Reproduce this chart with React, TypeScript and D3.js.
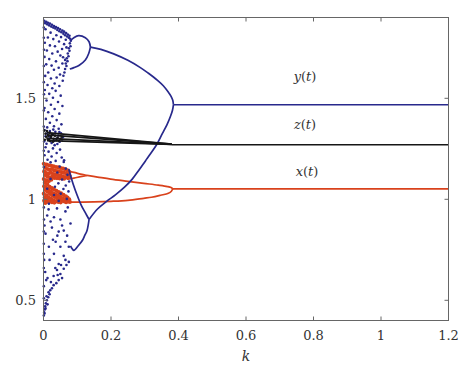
import React from "react";
import * as d3 from "d3";

const W = 474, H = 379;
const xTicks = [0, 0.2, 0.4, 0.6, 0.8, 1, 1.2];
const yTicks = [0.5, 1, 1.5];

// y(t) branches
const yUpper: [number, number][] = [[0.385,1.468],[0.383,1.49],[0.378,1.51],[0.37,1.53],[0.355,1.562],[0.337,1.59],[0.31,1.625],[0.287,1.652],[0.25,1.688],[0.208,1.72],[0.17,1.742],[0.139,1.753]];
const yLower: [number, number][] = [[0.385,1.468],[0.382,1.44],[0.376,1.41],[0.366,1.37],[0.352,1.325],[0.335,1.27],[0.317,1.225],[0.302,1.19],[0.283,1.145],[0.263,1.10],[0.24,1.06],[0.213,1.022],[0.187,0.99],[0.16,0.952],[0.135,0.90]];
const yLoopTopA: [number, number][] = [[0.139,1.753],[0.135,1.78],[0.124,1.80],[0.104,1.81],[0.09,1.80],[0.08,1.786]];
const yLoopTopB: [number, number][] = [[0.139,1.753],[0.134,1.722],[0.124,1.69],[0.106,1.664],[0.09,1.652],[0.078,1.645]];
const yLoopBotA: [number, number][] = [[0.135,0.90],[0.125,0.93],[0.112,0.97],[0.1,1.019],[0.088,1.075],[0.08,1.118],[0.075,1.15]];
const yLoopBotB: [number, number][] = [[0.135,0.90],[0.129,0.846],[0.122,0.82],[0.115,0.796],[0.103,0.77],[0.09,0.747],[0.085,0.755],[0.08,0.77]];
const ySteady: [number, number][] = [[0.385,1.468],[1.2,1.468]];

// x(t) branches
const xUpper: [number, number][] = [[0.383,1.052],[0.378,1.058],[0.367,1.063],[0.34,1.07],[0.297,1.079],[0.25,1.089],[0.199,1.10],[0.16,1.11],[0.129,1.118]];
const xLower: [number, number][] = [[0.383,1.052],[0.379,1.04],[0.37,1.03],[0.347,1.02],[0.32,1.01],[0.297,1.005],[0.25,0.995],[0.2,0.99],[0.15,0.987],[0.1,0.986],[0.065,0.986]];
const xLoopA: [number, number][] = [[0.129,1.118],[0.11,1.125],[0.09,1.133],[0.07,1.14]];
const xLoopB: [number, number][] = [[0.129,1.118],[0.11,1.112],[0.09,1.105],[0.07,1.10]];
const xSteady: [number, number][] = [[0.383,1.052],[1.2,1.052]];

// z(t) branches
const zA: [number, number][] = [[0.01,1.33],[0.38,1.273]];
const zB: [number, number][] = [[0.01,1.319],[0.38,1.273]];
const zC: [number, number][] = [[0.01,1.302],[0.38,1.272]];
const zD: [number, number][] = [[0.01,1.29],[0.38,1.272]];
const zSteady: [number, number][] = [[0.38,1.27],[1.2,1.27]];

const bluePts: [number, number][] = [
[0.002,1.884],[0.005,1.872],[0.008,1.879],[0.011,1.866],[0.013,1.874],[0.017,1.861],[0.019,1.87],[0.023,1.855],[0.025,1.864],[0.029,1.85],[0.031,1.858],[0.035,1.846],[0.037,1.853],[0.041,1.838],[0.043,1.848],[0.047,1.832],[0.049,1.842],[0.053,1.827],[0.056,1.836],[0.059,1.82],[0.061,1.83],[0.064,1.812],[0.067,1.823],[0.07,1.806],[0.072,1.816],[0.075,1.8],[0.077,1.81],[0.079,1.795],
[0.081,1.785],[0.078,1.772],[0.08,1.758],[0.075,1.748],[0.077,1.735],[0.072,1.722],[0.074,1.708],[0.069,1.698],[0.071,1.684],[0.066,1.672],[0.068,1.66],[0.064,1.645],[0.062,1.628],[0.059,1.612],
[0.006,1.842],[0.021,1.825],[0.038,1.812],[0.052,1.803],[0.066,1.79],[0.013,1.801],[0.029,1.793],[0.046,1.781],[0.061,1.768],[0.004,1.775],[0.019,1.762],[0.034,1.758],[0.055,1.744],[0.068,1.752],[0.01,1.737],[0.026,1.722],[0.042,1.731],[0.058,1.703],[0.003,1.705],[0.017,1.694],[0.037,1.683],[0.05,1.712],[0.064,1.69],[0.024,1.662],[0.045,1.651],[0.008,1.668],[0.056,1.672],[0.031,1.641],[0.014,1.628],[0.049,1.618],[0.039,1.603],[0.022,1.598],[0.005,1.611],[0.057,1.587],[0.033,1.573],[0.012,1.566],[0.047,1.561],[0.026,1.55],
[0.004,1.541],[0.036,1.537],[0.017,1.522],[0.051,1.513],[0.028,1.503],[0.009,1.489],[0.043,1.482],[0.022,1.468],[0.056,1.462],[0.003,1.452],[0.033,1.447],[0.014,1.431],[0.047,1.424],[0.026,1.411],[0.007,1.398],[0.039,1.392],[0.019,1.379],[0.053,1.371],[0.031,1.362],[0.011,1.356],[0.045,1.349],
[0.003,1.343],[0.019,1.338],[0.035,1.334],[0.052,1.327],[0.011,1.326],[0.027,1.319],[0.044,1.316],[0.058,1.309],[0.006,1.312],[0.022,1.304],[0.039,1.301],[0.055,1.296],[0.015,1.293],[0.031,1.289],[0.048,1.285],[0.002,1.287],[0.024,1.279],[0.041,1.274],[0.009,1.275],[0.033,1.268],[0.017,1.311],[0.047,1.333],[0.029,1.345],
[0.006,1.258],[0.028,1.252],[0.049,1.246],[0.015,1.236],[0.039,1.229],[0.003,1.218],[0.024,1.212],[0.054,1.207],[0.012,1.196],[0.036,1.19],[0.061,1.193],[0.021,1.183],
[0.06,1.185],[0.048,1.162],[0.066,1.152],[0.041,1.133],[0.071,1.121],[0.055,1.098],[0.076,1.088],[0.044,1.079],[0.066,1.068],[0.034,1.062],[0.059,1.051],[0.074,1.039],[0.051,1.028],[0.021,1.101],[0.011,1.052],[0.031,1.021],[0.069,1.002],[0.045,0.992],[0.016,0.978],
[0.011,0.92],[0.031,0.911],[0.021,0.89],[0.05,0.90],[0.065,0.94],[0.04,0.955],[0.015,0.95],[0.072,0.96],[0.006,0.83],[0.041,0.82],[0.06,0.845],[0.036,0.79],[0.065,0.79],[0.05,0.765],[0.075,0.765],[0.016,0.765],[0.025,0.86],[0.055,0.87],[0.08,0.88],[0.003,0.87],[0.07,0.82],[0.028,0.80],[0.045,0.84],
[0.001,0.73],[0.031,0.73],[0.06,0.72],[0.065,0.70],[0.045,0.68],[0.018,0.70],[0.075,0.69],[0.06,0.656],[0.04,0.65],[0.05,0.63],[0.03,0.62],[0.055,0.61],[0.045,0.60],[0.038,0.585],[0.03,0.575],[0.025,0.56],[0.02,0.55],[0.012,0.61],[0.005,0.64],[0.035,0.66],[0.052,0.675],[0.068,0.675],[0.042,0.625],[0.022,0.59],[0.008,0.6],
[0.018,0.53],[0.014,0.515],[0.01,0.50],[0.007,0.485],[0.012,0.48],[0.005,0.47],[0.004,0.455],[0.002,0.44],[0.001,0.425],[0.003,0.435],[0.006,0.46],[0.015,0.54],[0.009,0.52],
[0.001,1.85],[0.001,1.80],[0.0015,1.74],[0.001,1.66],[0.001,1.58],[0.0015,1.52],[0.001,1.44],[0.001,1.36],[0.001,1.24],[0.001,1.16],[0.001,0.96],[0.0015,0.90],[0.001,0.84],[0.001,0.78],[0.002,0.70],[0.001,0.66],[0.001,0.57],[0.001,0.51]
];

const redPts: [number, number][] = [
[0.001,1.176],[0.004,1.158],[0.002,1.138],[0.005,1.12],[0.001,1.10],[0.004,1.082],[0.002,1.064],[0.005,1.046],[0.001,1.028],[0.004,1.01],[0.002,0.993],[0.005,0.982],
[0.009,1.172],[0.011,1.150],[0.008,1.130],[0.012,1.112],[0.009,1.094],[0.011,1.075],[0.008,1.057],[0.012,1.038],[0.009,1.02],[0.011,1.0],[0.008,0.986],
[0.016,1.168],[0.018,1.146],[0.015,1.127],[0.019,1.108],[0.016,1.090],[0.018,1.062],[0.015,1.045],[0.019,1.027],[0.016,1.008],[0.018,0.99],
[0.023,1.166],[0.025,1.15],[0.022,1.132],[0.026,1.113],[0.023,1.097],[0.025,1.055],[0.022,1.038],[0.026,1.02],[0.023,1.002],[0.025,0.986],
[0.03,1.163],[0.032,1.143],[0.029,1.125],[0.033,1.106],[0.031,1.049],[0.029,1.03],[0.033,1.012],[0.03,0.994],[0.032,0.984],
[0.037,1.16],[0.039,1.14],[0.036,1.122],[0.04,1.105],[0.038,1.042],[0.036,1.024],[0.04,1.006],[0.037,0.99],
[0.044,1.158],[0.046,1.138],[0.043,1.12],[0.047,1.104],[0.045,1.036],[0.043,1.018],[0.047,1.0],[0.044,0.987],
[0.051,1.155],[0.053,1.135],[0.05,1.117],[0.054,1.103],[0.052,1.03],[0.05,1.012],[0.054,0.996],[0.051,0.985],
[0.058,1.152],[0.06,1.132],[0.057,1.114],[0.061,1.102],[0.059,1.022],[0.057,1.005],[0.061,0.99],
[0.065,1.148],[0.067,1.128],[0.064,1.11],[0.066,1.015],[0.064,0.998],[0.067,0.986],
[0.071,1.143],[0.073,1.122],[0.072,1.106],[0.071,1.008],[0.073,0.99],
[0.077,1.135],[0.078,1.115],[0.076,1.0],[0.078,0.987]
];

const blackPts: [number, number][] = [
[0.002,1.34],[0.006,1.325],[0.01,1.338],[0.014,1.315],[0.018,1.33],[0.022,1.31],[0.026,1.322],[0.03,1.30],[0.034,1.315],[0.038,1.292],[0.042,1.305],[0.046,1.288],[0.05,1.3],[0.054,1.31],[0.004,1.295],[0.012,1.3],[0.02,1.288],[0.028,1.285],[0.008,1.31],[0.016,1.295]
];

const BLUE = "#28298c";
const RED = "#d9421c";
const BLACK = "#161616";
const FONT = '"DejaVu Serif", serif';

export default function App() {
  const x = d3.scaleLinear().domain([0, 1.2]).range([43.5, 448.5]);
  const y = d3.scaleLinear().domain([0.4, 1.9]).range([320.5, 17.5]);
  const line = d3.line<[number, number]>().x(d => x(d[0])).y(d => y(d[1])).curve(d3.curveCatmullRom);
  const path = (d: [number, number][], c: string, key: string) => (
    <path key={key} d={line(d) || ""} fill="none" stroke={c} strokeWidth={1.7} />
  );
  const x0 = x(0), x1 = x(1.2), y0 = y(0.4), y1 = y(1.9);
  const ts = { fontFamily: FONT, fontSize: "13px", fill: "#333" } as React.CSSProperties;
  return (
    <svg width={W} height={H} style={{ position: "absolute", left: 0, top: 0, background: "#fff", fontFamily: FONT }}>
      <rect x={0} y={0} width={W} height={H} fill="#fff" />
      <g>
        {redPts.map((p, i) => <circle key={"r" + i} cx={x(p[0])} cy={y(p[1])} r={2.1} fill={RED} />)}
        {bluePts.map((p, i) => <circle key={"b" + i} cx={x(p[0])} cy={y(p[1])} r={1.3} fill={BLUE} />)}
        {blackPts.map((p, i) => <circle key={"k" + i} cx={x(p[0])} cy={y(p[1])} r={1.3} fill={BLACK} />)}
      </g>
      <g>
        {[xUpper, xLower, xLoopA, xLoopB, xSteady].map((d, i) => path(d, RED, "xl" + i))}
        {[yUpper, yLower, yLoopTopA, yLoopTopB, yLoopBotA, yLoopBotB, ySteady].map((d, i) => path(d, BLUE, "yl" + i))}
        {[zA, zB, zC, zD, zSteady].map((d, i) => path(d, BLACK, "zl" + i))}
      </g>
      <rect x={x0} y={y1} width={x1 - x0} height={y0 - y1} fill="none" stroke="#666" strokeWidth={1} />
      {xTicks.map(t => (
        <g key={"xt" + t}>
          <line x1={x(t)} x2={x(t)} y1={y0} y2={y0 - 4} stroke="#666" />
          <line x1={x(t)} x2={x(t)} y1={y1} y2={y1 + 4} stroke="#666" />
          <text x={x(t)} y={340} textAnchor="middle" style={ts}>{String(t)}</text>
        </g>
      ))}
      {yTicks.map(t => (
        <g key={"yt" + t}>
          <line x1={x0} x2={x0 + 4} y1={y(t)} y2={y(t)} stroke="#666" />
          <line x1={x1} x2={x1 - 4} y1={y(t)} y2={y(t)} stroke="#666" />
          <text x={36} y={y(t) + 5} textAnchor="end" style={ts}>{String(t)}</text>
        </g>
      ))}
      <text x={246} y={361} textAnchor="middle" style={{ ...ts, fontSize: "14px", fontStyle: "italic" }}>k</text>
      <text x={305} y={81} textAnchor="middle" style={ts}>
        <tspan style={{ fontStyle: "italic" }}>y</tspan>(<tspan style={{ fontStyle: "italic" }}>t</tspan>)
      </text>
      <text x={305} y={129} textAnchor="middle" style={ts}>
        <tspan style={{ fontStyle: "italic" }}>z</tspan>(<tspan style={{ fontStyle: "italic" }}>t</tspan>)
      </text>
      <text x={307} y={176} textAnchor="middle" style={ts}>
        <tspan style={{ fontStyle: "italic" }}>x</tspan>(<tspan style={{ fontStyle: "italic" }}>t</tspan>)
      </text>
    </svg>
  );
}
